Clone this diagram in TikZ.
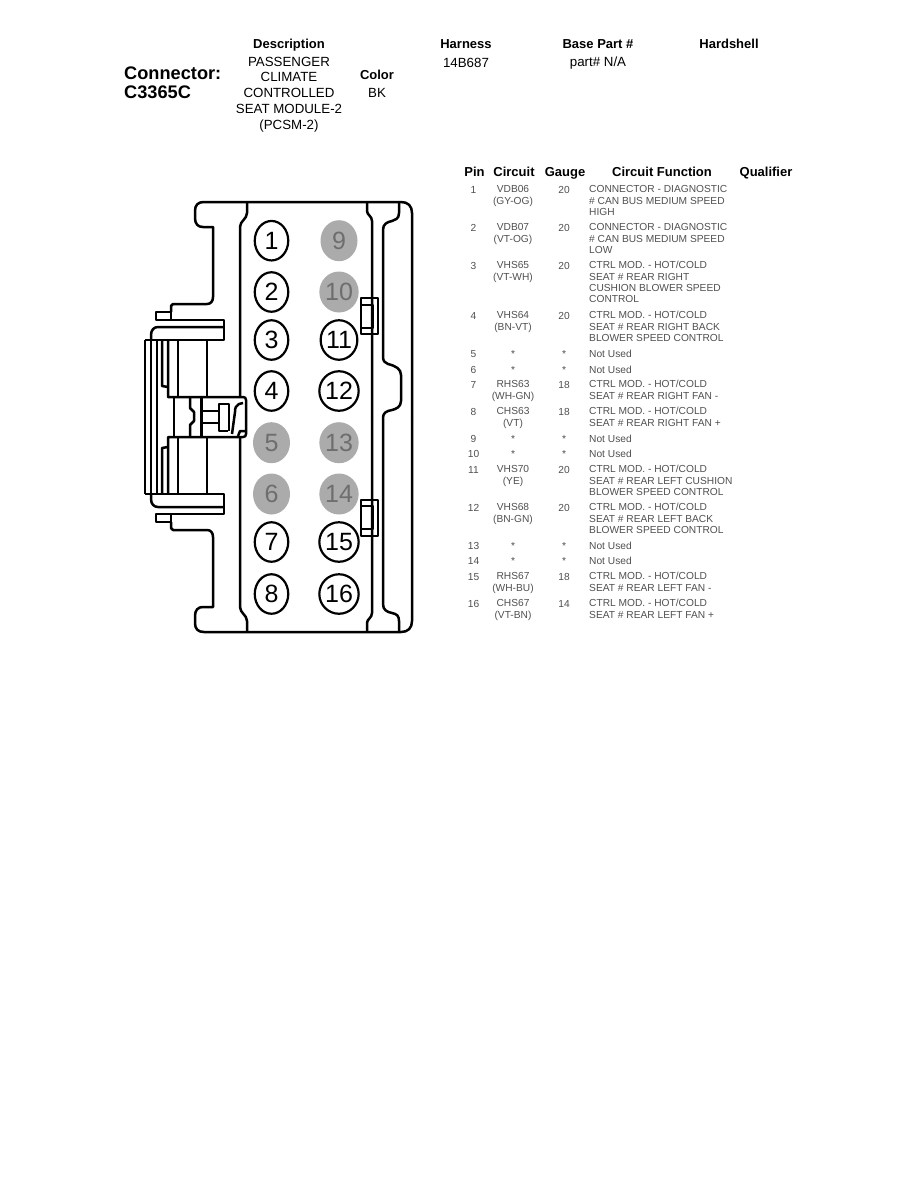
\documentclass[tikz,border=0pt]{standalone}
\usepackage{fontspec}
\setmainfont{Liberation Sans}
\usepackage{xcolor}
\usetikzlibrary{shapes.geometric, positioning}
\definecolor{pingray}{HTML}{ABABAB}
\definecolor{pintext}{HTML}{6E6E6E}
\definecolor{cellgray}{HTML}{505050}

% one half of the housing, mirrored for the lower half
\newcommand{\shellhalf}{
  \draw[shellline] (412,417) -- (412,213) .. controls (412,206) and (408,202) .. (401,202) -- (204,202)
    .. controls (198,202) and (195,205) .. (195,211) -- (195,218) .. controls (195,224) and (198,227) .. (203,227)
    -- (213,227) -- (213,297) .. controls (213,301) and (211,304) .. (207,304) -- (173,304) -- (171,306) -- (171,312);
  \draw[shellline] (171,320) -- (171,312) -- (156,312) -- (156,320) -- (224,320) -- (224,340) -- (145,340);
  \draw[shellline] (224,327) -- (158,327) .. controls (154,327) and (151,330) .. (151,335) -- (151,340);
  \draw[shellline] (247,202) -- (247,213) .. controls (247,219) and (240,221) .. (240,227) -- (240,397);
  \draw[shellline] (367,202) -- (367,211) .. controls (367,215) and (372,216) .. (372,221) -- (372,417);
  \draw[shellline] (162,340) -- (162,386) -- (168,387);
  \draw[shellline] (168,340) -- (168,397) -- (243,397) .. controls (245,397) and (246,398) .. (246,400) -- (246,417);
  \draw[shellline] (178,340) -- (178,397);
  \draw[shellline] (207,340) -- (207,397);
  % latch window
  \draw[shellline] (361,298) rectangle (378,334);
  \draw[shellline] (361,305) rectangle (373,328);
}

\begin{document}
\begin{tikzpicture}[x=1pt, y=-1pt,
    shellline/.style={black, line width=2.5pt, line join=round},
    pinopen/.style={ellipse, draw=black, line width=2.2pt, fill=white, minimum width=33.5pt, minimum height=39.5pt, inner sep=0pt, font=\fontsize{25}{25}\selectfont},
    pinshut/.style={ellipse, fill=pingray, text=pintext, minimum width=37pt, minimum height=41pt, inner sep=0pt, font=\fontsize{25}{25}\selectfont},
    headlabel/.style={inner sep=0pt, text height=9.4pt, text depth=0pt, font=\fontsize{13}{13}\selectfont\bfseries},
    infolabel/.style={inner sep=0pt, align=center, font=\fontsize{13.3}{15.8}\selectfont},
    cellmid/.style={anchor=north, inner sep=0pt, align=center, text=cellgray, font=\fontsize{10.2}{11.3}\selectfont, execute at begin node=\rule{0pt}{8pt}},
    cellleft/.style={anchor=north west, inner sep=0pt, align=left, text=cellgray, font=\fontsize{10.2}{11.3}\selectfont, execute at begin node=\rule{0pt}{8pt}}]
  \fill[white] (0,0) rectangle (918,1188);
  \useasboundingbox (0,0) rectangle (918,1188);

  % Sheet heading
  \node[anchor=west, inner sep=0pt, font=\fontsize{18.2}{18.2}\selectfont\bfseries] (connname) at (124,73) {Connector:};
  \node[anchor=west, inner sep=0pt, font=\fontsize{18.2}{18.2}\selectfont\bfseries] (connid) at (124,92) {C3365C};
  \foreach \headid/\headx/\heady/\headtext in {descr/289/44/Description, harn/466/44/Harness, base/598/44/Base Part \#, shell/729/44/Hardshell, color/377/75/Color} {
    \node[headlabel] (\headid) at (\headx,\heady) {\headtext};
  }
  \node[infolabel] (descrtext) at (289,94.5) {PASSENGER\\CLIMATE\\CONTROLLED\\SEAT MODULE-2\\(PCSM-2)};
  \node[infolabel] (colortext) at (377,93) {BK};
  \node[infolabel] (harntext) at (466,63) {14B687};
  \node[infolabel] (basetext) at (598,63.5) {part\# N/A};

  % Housing
  \shellhalf
  \begin{scope}[y=1pt, yshift=-834pt]
    \shellhalf
  \end{scope}
  \draw[shellline] (145,340) -- (145,494);
  \draw[shellline] (151,340) -- (151,494);
  \draw[shellline] (157,340) -- (157,494);
  \draw[shellline] (399,202) -- (399,213) .. controls (399,219) and (395,220) .. (392,221) .. controls (387,222) and (383,224) .. (383,230)
    -- (383,357) .. controls (383,361) and (385,363) .. (388,364) .. controls (396,366) and (401,369) .. (401,375)
    -- (401,401) .. controls (401,407) and (396,409) .. (392,410) .. controls (386,411) and (383,413) .. (383,418)
    -- (383,604) .. controls (383,610) and (387,612) .. (392,613) .. controls (397,614) and (399,616) .. (399,621) -- (399,632);

  % Centre latch
  \draw[shellline] (174,397) -- (174,437);
  \draw[shellline] (190,397) -- (190,408) -- (194,412) -- (194,421) -- (190,425) -- (190,437);
  \draw[shellline, line width=3pt] (201,397) -- (201,437);
  \draw[shellline] (201,411) -- (219,411);
  \draw[shellline] (201,423) -- (219,423);
  \draw[shellline] (228,431) -- (219,431) -- (219,404) -- (229,404) -- (229,431);
  \draw[shellline] (243,403) -- (239,404) .. controls (236,405) and (235,408) .. (235,412) -- (232,434);
  \draw[shellline] (238,436) -- (240,431) -- (245,431);

  % Pins
  \foreach \pinid/\pinx/\piny/\pinkind in {1/271.5/240.7/pinopen, 2/271.5/292/pinopen, 3/271.5/340/pinopen, 4/271.5/391/pinopen,
      5/271.5/442.7/pinshut, 6/271.5/494/pinshut, 7/271.5/542/pinopen, 8/271.5/594/pinopen,
      9/339/240.7/pinshut, 10/339/292/pinshut, 11/339/340/pinopen, 12/339/391/pinopen,
      13/339/442.7/pinshut, 14/339/494/pinshut, 15/339/542/pinopen, 16/339/594/pinopen} {
    \node[\pinkind] (pin\pinid) at (\pinx,\piny) {\pinid};
  }

  % Table heads
  \foreach \headid/\headx/\headtext in {tpin/474.5/Pin, tcirc/514/Circuit, tgauge/565/Gauge, tfunc/662/Circuit Function, tqual/766/Qualifier} {
    \node[headlabel] (\headid) at (\headx,172) {\headtext};
  }

  % Table rows
  \foreach \rowid/\rowy/\wirename/\gaugeval/\functext in {
      1/189/{VDB06\\(GY-OG)}/20/{CONNECTOR - DIAGNOSTIC\\\# CAN BUS MEDIUM SPEED\\HIGH},
      2/227/{VDB07\\(VT-OG)}/20/{CONNECTOR - DIAGNOSTIC\\\# CAN BUS MEDIUM SPEED\\LOW},
      3/265/{VHS65\\(VT-WH)}/20/{CTRL MOD. - HOT/COLD\\SEAT \# REAR RIGHT\\CUSHION BLOWER SPEED\\CONTROL},
      4/315/{VHS64\\(BN-VT)}/20/{CTRL MOD. - HOT/COLD\\SEAT \# REAR RIGHT BACK\\BLOWER SPEED CONTROL},
      5/353/*/*/Not Used,
      6/369/*/*/Not Used,
      7/384/{RHS63\\(WH-GN)}/18/{CTRL MOD. - HOT/COLD\\SEAT \# REAR RIGHT FAN -},
      8/411/{CHS63\\(VT)}/18/{CTRL MOD. - HOT/COLD\\SEAT \# REAR RIGHT FAN +},
      9/438/*/*/Not Used,
      10/453/*/*/Not Used,
      11/469/{VHS70\\(YE)}/20/{CTRL MOD. - HOT/COLD\\SEAT \# REAR LEFT CUSHION\\BLOWER SPEED CONTROL},
      12/507/{VHS68\\(BN-GN)}/20/{CTRL MOD. - HOT/COLD\\SEAT \# REAR LEFT BACK\\BLOWER SPEED CONTROL},
      13/545/*/*/Not Used,
      14/560/*/*/Not Used,
      15/576/{RHS67\\(WH-BU)}/18/{CTRL MOD. - HOT/COLD\\SEAT \# REAR LEFT FAN -},
      16/603/{CHS67\\(VT-BN)}/14/{CTRL MOD. - HOT/COLD\\SEAT \# REAR LEFT FAN +}} {
    \node[cellmid] (rowpin\rowid) at (473.5,\rowy-3.6) {\rowid};
    \node[cellmid] (rowwire\rowid) at (513,\rowy-3.6) {\wirename};
    \node[cellmid] (rowgauge\rowid) at (564,\rowy-3.6) {\gaugeval};
    \node[cellleft] (rowfunc\rowid) at (589,\rowy-3.6) {\functext};
  }
\end{tikzpicture}
\end{document}
